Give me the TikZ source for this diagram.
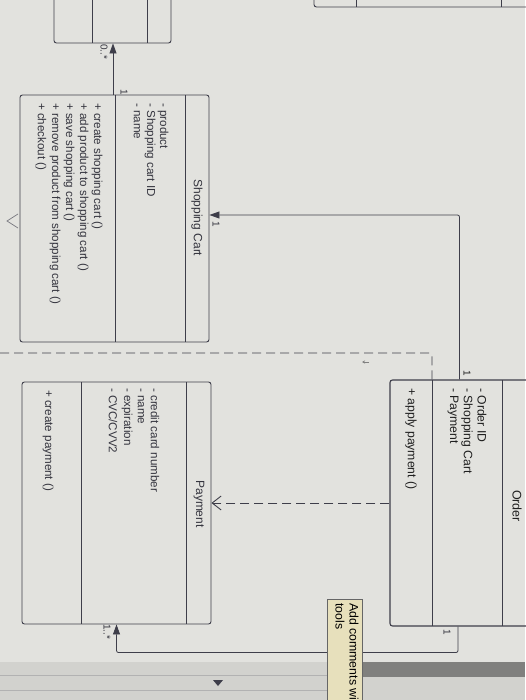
\documentclass[tikz,border=0pt]{standalone}
\usepackage{fontspec}
\setmainfont{Liberation Sans}
\usetikzlibrary{arrows.meta}
\definecolor{bg}{RGB}{226,226,222}
\definecolor{ln}{RGB}{62,62,74}
\definecolor{tx}{RGB}{52,52,62}
\definecolor{tipc}{RGB}{231,224,188}
\definecolor{barc}{RGB}{210,210,206}
\definecolor{bardark}{RGB}{128,128,126}
\begin{document}
\begin{tikzpicture}[x=1pt,y=-1pt,
  box/.style={draw=ln, line width=0.9pt, rounded corners=2.5pt, inner sep=0pt},
  div/.style={draw=ln, line width=0.8pt},
  txt/.style={rotate=-90, anchor=west, inner sep=0pt, text=tx, font=\fontsize{11.6}{13}\selectfont},
  ttl/.style={rotate=-90, inner sep=0pt, text=tx, font=\fontsize{12}{13}\selectfont},
  otxt/.style={txt, text=black!88, font=\fontsize{12.2}{13}\selectfont},
  mult/.style={rotate=-90, anchor=west, inner sep=0pt, text=tx, font=\fontsize{10}{11}\selectfont},
  assoc/.style={draw=ln, line width=0.8pt, rounded corners=2pt, -{Triangle[length=10pt,width=7pt]}},
  depline/.style={draw=ln, line width=0.9pt, dash pattern=on 9pt off 5pt},
]
\useasboundingbox (0,0) rectangle (525,700);
\fill[bg] (0,0) rectangle (525,700);

% bottom toolbar
\fill[barc] (0,662) rectangle (525,700);
\draw[gray!60, line width=0.5pt] (0,675) -- (327,675);
\draw[gray!60, line width=0.5pt] (0,690) -- (327,690);
\fill[bardark] (362,662) rectangle (525,677);
\fill[ln] (213,680) -- (223,680) -- (218,686) -- cycle;

% partially visible boxes at the top
\node[box, minimum width=117pt, minimum height=63pt] (tl) at (112.5,11.5) {};
\draw[div] (92,-20) -- (92,43);
\draw[div] (147,-20) -- (147,43);
\node[box, minimum width=231pt, minimum height=27pt] (tr) at (429.5,-6.5) {};
\draw[div] (356,-20) -- (356,7);
\draw[div] (501,-20) -- (501,7);

% Shopping Cart
\node[box, minimum width=189pt, minimum height=247pt] (sc) at (114.5,218.5) {};
\draw[div] (185,95) -- (185,342);
\draw[div] (115,95) -- (115,342);
\node[ttl] (scT) at (197,218) {Shopping Cart};
\node[txt] (sca1) at (163,103) {- product};
\node[txt] (sca2) at (150,103) {- Shopping cart ID};
\node[txt] (sca3) at (137,103) {- name};
\node[txt] (scm1) at (97,103) {+ create shopping cart ()};
\node[txt] (scm2) at (83,103) {+ add product to shopping cart ()};
\node[txt] (scm3) at (69,103) {+ save shopping cart ()};
\node[txt] (scm4) at (55,103) {+ remove product from shopping cart ()};
\node[txt] (scm5) at (41,103) {+ checkout ()};

% Payment
\node[box, minimum width=189pt, minimum height=242pt] (pay) at (116.5,503) {};
\draw[div] (186,382) -- (186,624);
\draw[div] (81,382) -- (81,624);
\node[ttl] (payT) at (199,504) {Payment};
\node[txt] (paya1) at (155,388) {- credit card number};
\node[txt] (paya2) at (141,388) {- name};
\node[txt] (paya3) at (127,388) {- expiration};
\node[txt] (paya4) at (113,388) {- CVC/CVV2};
\node[txt] (paym1) at (48,390) {+ create payment ()};

% Order
\node[box, line width=1.1pt, minimum width=155pt, minimum height=246pt] (ord) at (467.5,503) {};
\draw[div, line width=1pt] (432,380) -- (432,626);
\draw[div, line width=1pt] (502,380) -- (502,626);
\node[ttl, text=black!88, font=\fontsize{12.5}{13}\selectfont] (ordT) at (517,506) {Order};
\node[otxt] (orda1) at (482,388) {- Order ID};
\node[otxt] (orda2) at (467,388) {- Shopping Cart};
\node[otxt] (orda3) at (453,388) {- Payment};
\node[otxt] (ordm1) at (411,388) {+ apply payment ()};

% connectors
\draw[assoc] ([xshift=-1.5pt]sc.north) -- ([xshift=-1.5pt]sc.north |- tl.south);
\node[mult] (m1) at (104,44) {0..*};
\node[mult] (m2) at (124,89) {1};

\draw[assoc] ([xshift=-8pt]ord.north) |- ([yshift=3.5pt]sc.east);
\node[mult] (m3) at (216,221) {1};
\node[mult, text=black!88] (m4) at (467,370) {1};

\draw[assoc] ([xshift=-9.5pt]ord.south) -- ++(0,26) -| (pay.south);
\node[mult] (m5) at (447,629) {1};
\node[mult] (m6) at (107,624) {1..*};

\draw[depline, -{Straight Barb[length=9pt,width=14pt]}] (ord.west) -- (pay.east);

\coordinate (offl) at (-6,353);
\draw[depline, rounded corners=3pt] ([xshift=-35.5pt]ord.north) |- (offl);

% stray marks
\draw[ln!70, line width=0.7pt] (18,214) -- (7,221) -- (18,228);
\draw[gray, line width=0.6pt, -{Stealth[length=3pt,width=3pt]}] (369,362) -- (362,362);

% tooltip
\node[draw=gray!80!black, fill=tipc, minimum width=35pt, minimum height=110pt, inner sep=0pt] (tip) at (344.5,654) {};
\node[txt, text=black, font=\fontsize{12.3}{13}\selectfont] (tip1) at (354,603) {Add comments wi};
\node[txt, text=black, font=\fontsize{12.3}{13}\selectfont] (tip2) at (340,603) {tools};
\end{tikzpicture}
\end{document}
